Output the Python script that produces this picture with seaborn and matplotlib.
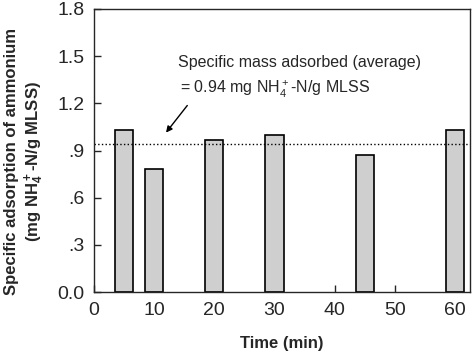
import numpy as np
import pandas as pd
import matplotlib
matplotlib.use("Agg")
import matplotlib.pyplot as plt
import seaborn as sns

# valori
tempo_min = [5, 10, 20, 30, 45, 60]
adsorbimento = [1.03, 0.785, 0.965, 1.0, 0.87, 1.03]
media = 0.94
y_ticks = [0.0, 0.3, 0.6, 0.9, 1.2, 1.5, 1.8]
y_tick_labels = ["0.0", ".3", ".6", ".9", "1.2", "1.5", "1.8"]
x_ticks = [0, 10, 20, 30, 40, 50, 60]

sns.set_theme(style="ticks")
plt.rcParams["font.family"] = ["Liberation Sans", "DejaVu Sans"]
plt.rcParams["mathtext.default"] = "regular"

df = pd.DataFrame({"Time": tempo_min, "Ads": adsorbimento})

fig = plt.figure(figsize=(4.74, 3.55), dpi=100)
ax = fig.add_axes([0.198, 0.177, 0.794, 0.798])

sns.barplot(data=df, x="Time", y="Ads", native_scale=True, width=0.6,
            color="#cfcfcf", edgecolor="black", linewidth=1.2,
            saturation=1, ax=ax)

# linea tratteggiata della media
ax.axhline(media, color="black", linestyle=":", linewidth=1.0)

ax.set_xlim(0, 62.5)
ax.set_ylim(0, 1.8)
ax.set_xticks(x_ticks)
ax.set_yticks(y_ticks)
ax.set_yticklabels(y_tick_labels)
ax.tick_params(direction="in", length=5, width=1, labelsize=14, pad=7)
for s in ax.spines.values():
    s.set_linewidth(1.0)
    s.set_visible(True)

ax.set_xlabel("Time (min)", fontsize=12, fontweight="bold", labelpad=12)
ax.set_ylabel("Specific adsorption of ammonium\n(mg NH$_4^+$-N/g MLSS)",
              fontsize=12, fontweight="bold")
ax.yaxis.set_label_coords(-0.128, 0.46)

ax.text(14, 1.43, "Specific mass adsorbed (average)", fontsize=11.5)
ax.text(14.3, 1.26, "= 0.94 mg NH$_4^+$-N/g MLSS", fontsize=11.5)
ax.annotate("", xy=(11.7, 1.0), xytext=(15.8, 1.2),
            arrowprops=dict(arrowstyle="-|>", color="black", lw=1,
                            mutation_scale=9))

fig.savefig("out.png", dpi=100)
